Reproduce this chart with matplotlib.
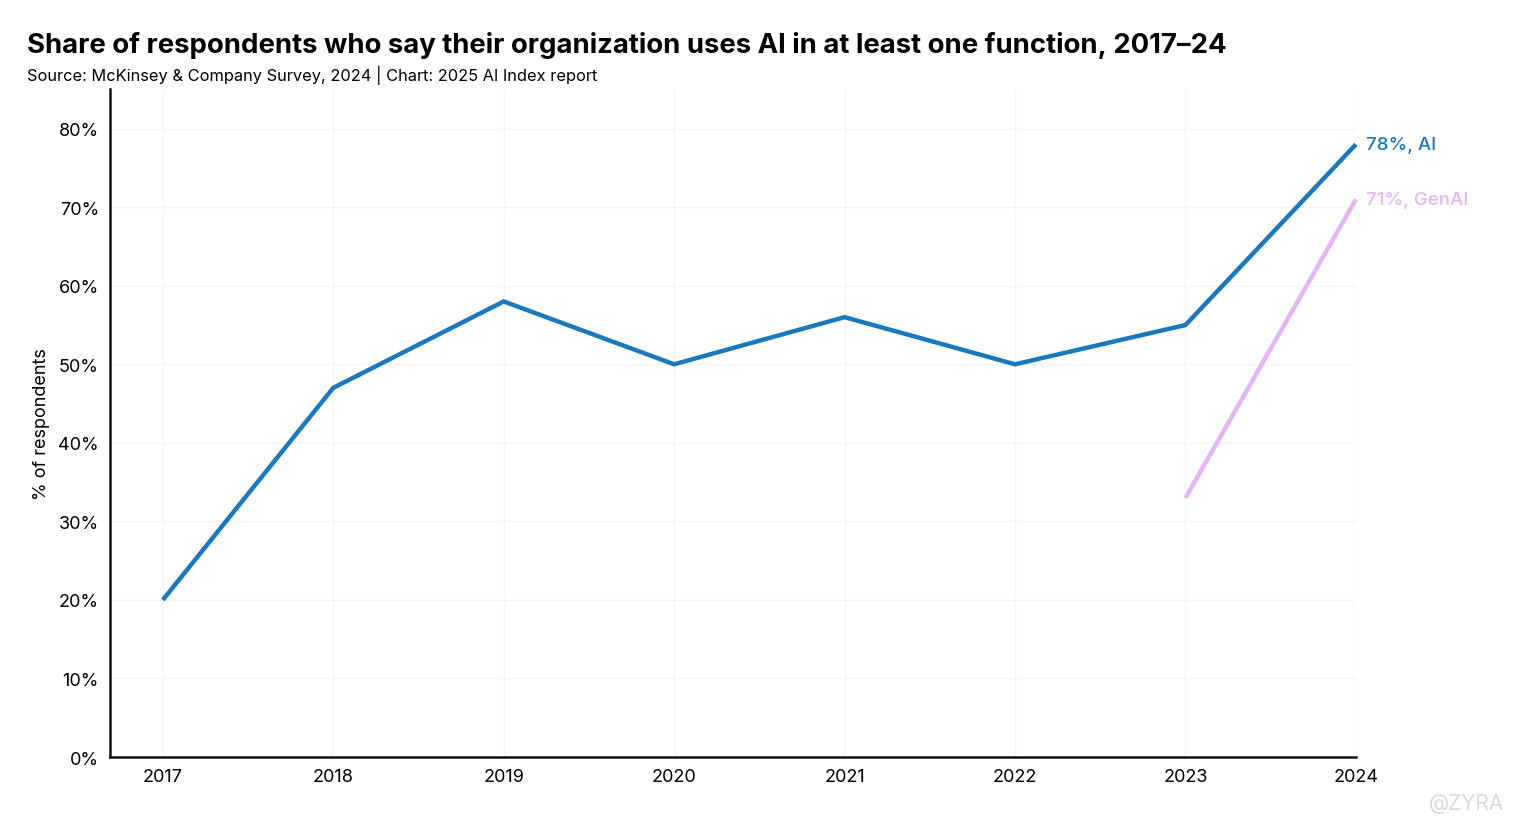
import matplotlib.pyplot as plt
from matplotlib.ticker import PercentFormatter

plt.rcParams['font.family'] = ['Inter', 'DejaVu Sans']

years = [2017, 2018, 2019, 2020, 2021, 2022, 2023, 2024]
ai_share = [20, 47, 58, 50, 56, 50, 55, 78]
genai_years = [2023, 2024]
genai_share = [33, 71]

blue = '#1a78be'
pink = '#e6b3f7'

fig = plt.figure(figsize=(15.15, 8.29), dpi=100)
ax = fig.add_axes([0.0726, 0.0856, 0.8224, 0.8054])

ax.plot(years, ai_share, color=blue, lw=3.2, solid_capstyle='butt', solid_joinstyle='miter', clip_on=False)
ax.plot(genai_years, genai_share, color=pink, lw=3.2, solid_capstyle='butt', clip_on=False)

ax.text(2024 + 0.06, ai_share[-1], f"{ai_share[-1]}%, AI", color=blue, fontsize=13.5,
        va='center', ha='left', fontweight='medium')
ax.text(2024 + 0.06, genai_share[-1], f"{genai_share[-1]}%, GenAI", color=pink, fontsize=13.5,
        va='center', ha='left', fontweight='medium')

ax.set_xlim(2016.69, 2024)
ax.set_ylim(0, 85)
ax.set_xticks(years)
ax.set_yticks(range(0, 81, 10))
ax.yaxis.set_major_formatter(PercentFormatter(decimals=0))
ax.tick_params(length=0, labelsize=13, pad=8)
ax.grid(True, color='#f4f4f4', lw=1)
ax.set_axisbelow(True)
for s in ['top', 'right']:
    ax.spines[s].set_visible(False)
for s in ['left', 'bottom']:
    ax.spines[s].set_linewidth(1.8)
    ax.spines[s].set_color('#111111')
ax.set_ylabel('% of respondents', fontsize=13, labelpad=6)

fig.text(0.018, 0.945, 'Share of respondents who say their organization uses AI in at least one function, 2017–24',
         fontsize=19.8, fontweight='bold', va='center', ha='left')
fig.text(0.018, 0.909, 'Source: McKinsey & Company Survey, 2024 | Chart: 2025 AI Index report',
         fontsize=11.8, va='center', ha='left')

fig.text(0.993, 0.03, '@ZYRA', fontsize=15, color='#d9d9d9', ha='right', va='center')

fig.savefig('out.png', dpi=100, facecolor='white')
